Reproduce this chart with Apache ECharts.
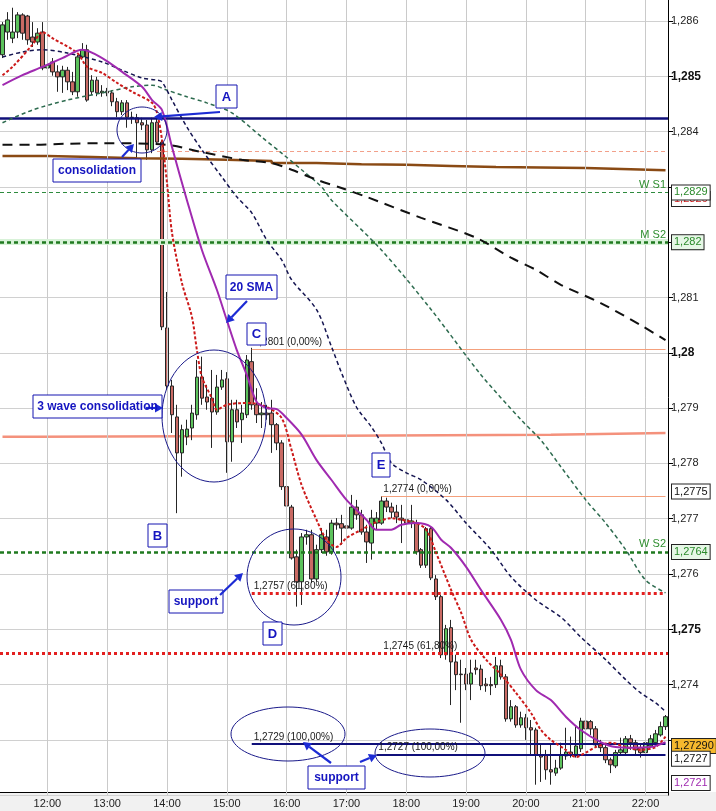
<!DOCTYPE html>
<html><head><meta charset="utf-8">
<script src="https://cdn.jsdelivr.net/npm/echarts@6/dist/echarts.min.js"></script>
<style>html,body{margin:0;padding:0;background:#fff}#c{width:716px;height:811px}</style>
</head><body><div id="c"></div>
<script>
// ---------- categories (5-minute bars) ----------
const times = [];
for (let m = 11 * 60 + 15; m <= 22 * 60 + 20; m += 5) {
  times.push(String(Math.floor(m / 60)).padStart(2, '0') + ':' + String(m % 60).padStart(2, '0'));
}
const hourTicks = ['12:00','13:00','14:00','15:00','16:00','17:00','18:00','19:00','20:00','21:00','22:00'];
// y tick labels hidden behind the price boxes on the right
const coveredTicks = ['1,283', '1,282', '1,273'];

// ---------- candles ----------
const opens = [1.28539,1.28580,1.28569,1.28580,1.28611,1.28609,1.28571,1.28562,1.28580,1.28515,
1.28526,1.28508,1.28499,1.28511,1.28490,1.28472,1.28535,1.28548,1.28472,1.28493,
1.28470,1.28473,1.28470,1.28454,1.28436,1.28452,1.28426,1.28425,1.28416,1.28412,
1.28367,1.28417,1.28381,1.28045,1.27940,1.27884,1.27819,1.27848,1.27864,1.27888,
1.27956,1.27920,1.27918,1.27893,1.27938,1.27953,1.27839,1.27897,1.27879,1.27888,
1.27984,1.27906,1.27888,1.27891,1.27891,1.27870,1.27837,1.27758,1.27721,1.27631,
1.27586,1.27667,1.27671,1.27591,1.27644,1.27667,1.27640,1.27692,1.27691,1.27687,
1.27683,1.27721,1.27707,1.27676,1.27656,1.27692,1.27692,1.27732,1.27721,1.27712,
1.27701,1.27698,1.27692,1.27692,1.27644,1.27616,1.27682,1.27591,1.27559,1.27454,
1.27503,1.27441,1.27419,1.27419,1.27401,1.27430,1.27428,1.27401,1.27400,1.27400,
1.27434,1.27414,1.27338,1.27360,1.27327,1.27340,1.27322,1.27318,1.27273,1.27273,
1.27246,1.27240,1.27249,1.27271,1.27278,1.27273,1.27284,1.27334,1.27333,1.27320,
1.27291,1.27286,1.27264,1.27253,1.27277,1.27277,1.27302,1.27295,1.27286,1.27277,
1.27289,1.27295,1.27309,1.27324];
const closes = [1.28593,1.28602,1.28580,1.28611,1.28578,1.28566,1.28562,1.28578,1.28515,1.28520,
1.28508,1.28499,1.28511,1.28490,1.28472,1.28535,1.28548,1.28457,1.28493,1.28470,
1.28473,1.28470,1.28454,1.28436,1.28452,1.28426,1.28425,1.28416,1.28412,1.28367,
1.28416,1.28381,1.28047,1.27940,1.27888,1.27819,1.27861,1.27862,1.27891,1.27956,
1.27918,1.27911,1.27893,1.27938,1.27951,1.27839,1.27897,1.27875,1.27891,1.27987,
1.27906,1.27888,1.27891,1.27888,1.27870,1.27837,1.27758,1.27723,1.27629,1.27586,
1.27667,1.27671,1.27591,1.27644,1.27671,1.27640,1.27692,1.27689,1.27683,1.27683,
1.27721,1.27707,1.27676,1.27658,1.27701,1.27701,1.27732,1.27721,1.27712,1.27703,
1.27698,1.27692,1.27696,1.27640,1.27616,1.27682,1.27593,1.27559,1.27454,1.27501,
1.27441,1.27418,1.27418,1.27401,1.27421,1.27427,1.27398,1.27398,1.27398,1.27434,
1.27414,1.27338,1.27360,1.27327,1.27340,1.27322,1.27318,1.27273,1.27269,1.27246,
1.27242,1.27249,1.27273,1.27278,1.27273,1.27289,1.27334,1.27320,1.27320,1.27291,
1.27286,1.27264,1.27255,1.27277,1.27282,1.27302,1.27295,1.27282,1.27277,1.27295,
1.27302,1.27311,1.27324,1.27342];
const lows = [1.28533,1.28566,1.28560,1.28569,1.28566,1.28557,1.28553,1.28557,1.28511,1.28508,
1.28501,1.28472,1.28470,1.28475,1.28466,1.28463,1.28533,1.28454,1.28466,1.28464,
1.28463,1.28464,1.28446,1.28426,1.28430,1.28407,1.28414,1.28349,1.28403,1.28349,
1.28361,1.28376,1.28041,1.27933,1.27855,1.27710,1.27776,1.27833,1.27842,1.27879,
1.27906,1.27897,1.27828,1.27888,1.27933,1.27783,1.27803,1.27864,1.27837,1.27882,
1.27897,1.27873,1.27864,1.27879,1.27819,1.27824,1.27752,1.27716,1.27626,1.27541,
1.27544,1.27653,1.27584,1.27586,1.27638,1.27633,1.27635,1.27680,1.27653,1.27671,
1.27680,1.27698,1.27671,1.27620,1.27626,1.27680,1.27689,1.27712,1.27701,1.27692,
1.27656,1.27683,1.27683,1.27635,1.27611,1.27611,1.27589,1.27553,1.27448,1.27445,
1.27363,1.27390,1.27331,1.27390,1.27372,1.27418,1.27390,1.27387,1.27381,1.27394,
1.27409,1.27333,1.27333,1.27322,1.27322,1.27300,1.27273,1.27219,1.27224,1.27228,
1.27219,1.27235,1.27246,1.27264,1.27268,1.27268,1.27278,1.27295,1.27309,1.27286,
1.27278,1.27258,1.27240,1.27249,1.27271,1.27273,1.27282,1.27271,1.27268,1.27271,
1.27286,1.27291,1.27306,1.27318];
const highs = [1.28598,1.28616,1.28624,1.28616,1.28614,1.28611,1.28598,1.28587,1.28598,1.28530,
1.28533,1.28520,1.28519,1.28517,1.28508,1.28539,1.28560,1.28557,1.28502,1.28499,
1.28484,1.28479,1.28475,1.28461,1.28457,1.28457,1.28436,1.28432,1.28425,1.28421,
1.28425,1.28425,1.28385,1.28110,1.27951,1.27906,1.27870,1.27879,1.27906,1.27987,
1.27993,1.27942,1.27969,1.27960,1.27969,1.27965,1.27915,1.27915,1.27906,1.27996,
1.28009,1.27936,1.27911,1.27906,1.27915,1.27873,1.27842,1.27761,1.27725,1.27644,
1.27674,1.27680,1.27680,1.27653,1.27683,1.27680,1.27698,1.27701,1.27707,1.27698,
1.27743,1.27734,1.27716,1.27689,1.27716,1.27712,1.27741,1.27738,1.27729,1.27725,
1.27725,1.27716,1.27725,1.27698,1.27647,1.27685,1.27685,1.27598,1.27562,1.27508,
1.27517,1.27454,1.27445,1.27430,1.27445,1.27445,1.27436,1.27412,1.27414,1.27450,
1.27445,1.27419,1.27372,1.27363,1.27351,1.27347,1.27336,1.27322,1.27291,1.27282,
1.27291,1.27264,1.27295,1.27322,1.27306,1.27324,1.27340,1.27340,1.27336,1.27325,
1.27300,1.27291,1.27268,1.27282,1.27304,1.27307,1.27309,1.27300,1.27291,1.27300,
1.27309,1.27318,1.27333,1.27345];

// ---------- moving averages / indicator lines: [barIndex, price] ----------
const sma20 = [[0,1.28484],[4,1.28502],[8,1.28517],[12,1.28533],[16,1.28548],[20,1.28533],[24,1.28508],[28,1.28481],[30,1.28457],[32,1.28439],[34,1.28372],[37,1.28276],[40,1.28186],[43,1.28114],[45,1.28059],[47,1.28005],[49,1.27960],[51,1.27911],[53,1.27900],[55,1.27898],[57,1.27882],[60,1.27852],[63,1.27806],[66,1.27770],[69,1.27734],[71,1.27716],[73,1.27698],[75,1.27680],[78,1.27680],[80,1.27689],[83,1.27692],[86,1.27685],[88,1.27662],[90,1.27647],[93,1.27613],[96,1.27571],[100,1.27517],[102,1.27481],[104,1.27427],[107,1.27390],[110,1.27372],[113,1.27342],[116,1.27318],[120,1.27296],[123,1.27287],[126,1.27286],[130,1.27287],[133,1.27296]];
const emaFast = [[0,1.28502],[2,1.28517],[6,1.28557],[8,1.28580],[10,1.28569],[15,1.28542],[17,1.28517],[20,1.28506],[23,1.28488],[26,1.28472],[30,1.28452],[31,1.28434],[32,1.28385],[33,1.28307],[34,1.28217],[36,1.28126],[38,1.28065],[39,1.28005],[40,1.27956],[42,1.27918],[43,1.27897],[45,1.27906],[48,1.27909],[50,1.27909],[53,1.27902],[56,1.27882],[58,1.27824],[60,1.27761],[63,1.27698],[65,1.27662],[67,1.27649],[69,1.27665],[72,1.27680],[75,1.27694],[78,1.27701],[80,1.27698],[83,1.27692],[85,1.27680],[87,1.27638],[90,1.27571],[92,1.27530],[94,1.27481],[97,1.27445],[100,1.27418],[103,1.27385],[106,1.27349],[108,1.27318],[110,1.27300],[113,1.27282],[115,1.27269],[117,1.27277],[119,1.27287],[122,1.27295],[125,1.27287],[128,1.27282],[131,1.27287],[133,1.27306]];
const maNavy = [[0,1.28535],[4,1.28544],[8,1.28548],[13,1.28542],[20,1.28526],[24,1.28511],[28,1.28497],[31,1.28493],[32,1.28490],[34,1.28457],[37,1.28408],[40,1.28367],[44,1.28318],[47,1.28282],[50,1.28253],[53,1.28204],[56,1.28168],[58,1.28132],[63,1.28078],[66,1.28011],[68,1.27964],[71,1.27902],[74,1.27866],[76,1.27837],[78,1.27801],[81,1.27783],[84,1.27770],[89,1.27734],[93,1.27692],[98,1.27644],[102,1.27595],[107,1.27553],[112,1.27522],[116,1.27486],[121,1.27445],[125,1.27409],[128,1.27385],[131,1.27367],[133,1.27351]];
const maGreen = [[0,1.28416],[6,1.28439],[13,1.28457],[20,1.28470],[26,1.28481],[30,1.28484],[33,1.28475],[37,1.28463],[41,1.28452],[46,1.28434],[52,1.28390],[56,1.28361],[60,1.28331],[64,1.28300],[66,1.28276],[76,1.28186],[86,1.28078],[96,1.27960],[104,1.27879],[108,1.27842],[112,1.27794],[117,1.27734],[121,1.27692],[125,1.27644],[129,1.27589],[133,1.27566]];
const maBlack = [[0,1.28376],[6,1.28376],[13,1.28378],[20,1.28379],[33,1.28376],[40,1.28363],[48,1.28349],[54,1.28343],[58,1.28331],[63,1.28313],[68,1.28298],[73,1.28282],[84,1.28244],[95,1.28208],[102,1.28172],[107,1.28150],[112,1.28123],[120,1.28090],[128,1.28050],[133,1.28023]];
const pivotBrown = [[0,1.28356],[9,1.28354],[18,1.28352],[27,1.28351],[36,1.28349],[45,1.28347],[54,1.28343],[63,1.28341],[72,1.28340],[81,1.28338],[90,1.28336],[99,1.28335],[108,1.28334],[117,1.28332],[126,1.28330],[133,1.28330]];
const pivotSalmon = [[0,1.27848],[7,1.27850],[67,1.27852],[110,1.27855],[133,1.27855]];

// ---------- horizontal levels ----------
const levelA = 1.28424, levelPink = 1.28365, WS1 = 1.2829, MS2 = 1.2820, WS2 = 1.2764;
const fibC = 1.28006, fibE = 1.27740, fibD = 1.27565, fibLow = 1.27456, sup1 = 1.27293, sup2 = 1.27274;
const boxRed = 1.28278, boxE = 1.27749, boxLast = 1.27289, boxSup = 1.27266, boxPurple = 1.27222;

const FONT = '"Liberation Sans", Arial, sans-serif';
const last = times[times.length - 1];
const noLine = {color: 'rgba(0,0,0,0)', width: 0, type: 'solid'};
function full(v, ls, label) { return {yAxis: v, lineStyle: ls, label: label || {show: false}}; }
function seg(i0, v, ls, label) { return [{coord: [times[i0], v], lineStyle: ls, label: label || {show: false}}, {coord: [last, v]}]; }
function fibLabel(t) { return {show: true, position: 'insideStartTop', formatter: t, color: '#1a1a1a', fontSize: 10, fontFamily: FONT, distance: 2}; }
function nameLabel(t) { return {show: true, position: 'insideEndTop', formatter: t, color: '#2f8f2f', fontSize: 11, fontFamily: FONT, distance: 2}; }
function boxLabel(t, color, bg, border) { return {show: true, position: 'end', distance: 4, formatter: t, color: color, backgroundColor: bg, borderColor: border || '#222', borderWidth: 1, padding: [2, 2, 1, 2], fontSize: 11, fontFamily: FONT}; }

const navyLS = {color: '#10107a', width: 2.2, type: 'solid'};
const redDot = {color: '#e32020', width: 3, type: [3, 3]};
const greenThick = {color: '#1f7a1f', width: 2.5, type: [4, 3]};
const salmonThin = {color: '#f4a07c', width: 1.2, type: 'solid'};

const levelData = [
  full(levelA, {color: '#10107a', width: 2.5, type: 'solid'}),
  seg(31, levelPink, {color: '#f2a08a', width: 1, type: [4, 3]}),
  full(boxRed, noLine, boxLabel('1,2826', '#d02020', '#fff')),
  full(WS1, {color: '#2e8b3e', width: 1.2, type: [4, 3]}, nameLabel('W S1')),
  full(WS1, noLine, boxLabel('1,2829', '#2a8a2a', '#fff')),
  full(MS2, {color: '#d8f2d8', width: 6, type: 'solid'}),
  full(MS2, greenThick, nameLabel('M S2')),
  full(MS2, noLine, boxLabel('1,282', '#2a8a2a', '#e6f7e6')),
  seg(50, fibC, salmonThin, fibLabel('1,2801 (0,00%)')),
  seg(76, fibE, salmonThin, fibLabel('1,2774 (0,00%)')),
  full(boxE, noLine, boxLabel('1,2775', '#111', '#fff')),
  full(WS2, greenThick, nameLabel('W S2')),
  full(WS2, noLine, boxLabel('1,2764', '#2a8a2a', '#e6f7e6')),
  seg(50, fibD, redDot, fibLabel('1,2757 (61,80%)')),
  full(fibLow, redDot),
  seg(76, fibLow, noLine, fibLabel('1,2745 (61,80%)')),
  seg(50, sup1, navyLS, fibLabel('1,2729 (100,00%)')),
  seg(75, sup2, navyLS, fibLabel('1,2727 (100,00%)')),
  full(boxLast, noLine, boxLabel('1,27290', '#111', '#f5b82e')),
  full(boxSup, noLine, boxLabel('1,2727', '#111', '#fff')),
  full(boxPurple, noLine, boxLabel('1,2721', '#a02ab0', '#fff'))
];

function lineSeries(data, color, width, type, z, extra) {
  return Object.assign({type: 'line', data: data, showSymbol: false, symbol: 'none', z: z, silent: true,
    lineStyle: {color: color, width: width, type: type}}, extra || {});
}

// ---------- annotations ----------
const BLUE = '#1c2bd4';
function arrow(x1, y1, x2, y2) {
  const a = Math.atan2(y2 - y1, x2 - x1), L = 8, W = 4.5;
  const bx = x2 - L * Math.cos(a), by = y2 - L * Math.sin(a);
  const px = -Math.sin(a), py = Math.cos(a);
  return [
    {type: 'line', z: 100, shape: {x1: x1, y1: y1, x2: bx, y2: by}, style: {stroke: BLUE, lineWidth: 2.2}},
    {type: 'polygon', z: 100, shape: {points: [[x2, y2], [bx + px * W, by + py * W], [bx - px * W, by - py * W]]}, style: {fill: BLUE}}
  ];
}
function box(x, y, w, h, t, fs) {
  return [
    {type: 'rect', z: 100, shape: {x: x, y: y, width: w, height: h}, style: {fill: '#fff', stroke: '#1515b0', lineWidth: 1}},
    {type: 'text', z: 101, x: x + w / 2, y: y + h / 2 + 0.5, style: {text: t, fill: '#1515c0', font: 'bold ' + (fs || 12) + 'px ' + FONT, align: 'center', verticalAlign: 'middle', textAlign: 'center', textVerticalAlign: 'middle'}}
  ];
}
function ellipse(cx, cy, rx, ry) {
  const pts = [];
  for (let k = 0; k < 72; k++) { const t = k / 72 * Math.PI * 2; pts.push([cx + rx * Math.cos(t), cy + ry * Math.sin(t)]); }
  return {type: 'polygon', z: 99, shape: {points: pts}, style: {fill: 'none', stroke: '#1a1a8a', lineWidth: 1}};
}
const annotations = [].concat(
  [ellipse(142, 130, 25, 23), ellipse(214, 416, 52, 66), ellipse(294, 577, 47, 48), ellipse(288, 734, 57, 27), ellipse(430, 753, 55, 24)],
  box(216, 85, 21, 23, 'A', 13), arrow(220, 112, 154, 117),
  box(53, 159, 88, 23, 'consolidation'), arrow(122, 157, 134, 144),
  box(226, 275, 51, 24, '20 SMA'), arrow(247, 301, 226, 323),
  box(247, 323, 19, 22, 'C', 13),
  box(33, 395, 129, 23, '3 wave consolidation'), arrow(146, 408, 163, 408),
  box(148, 524, 19, 23, 'B', 13),
  box(372, 453, 18, 24, 'E', 13),
  box(169, 590, 54, 23, 'support'), arrow(220, 595, 243, 573),
  box(263, 622, 19, 23, 'D', 13),
  box(308, 766, 57, 23, 'support'), arrow(331, 763, 303, 742), arrow(360, 762, 377, 755)
);

const chart = echarts.init(document.getElementById('c'), null, {renderer: 'canvas'});
chart.setOption({
  animation: false,
  backgroundColor: '#fff',
  grid: {left: 0, right: 48, top: -1.12, bottom: 15.8, containLabel: false, outerBoundsMode: 'none'},
  xAxis: {
    type: 'category', data: times, boundaryGap: true, offset: -3.2,
    axisLine: {show: true, lineStyle: {color: '#000', width: 1}},
    axisTick: {show: false},
    axisLabel: {interval: function (i, v) { return v.slice(3) === '00'; }, color: '#222', fontSize: 11, fontFamily: FONT, margin: 6},
    splitLine: {show: false}
  },
  yAxis: {
    type: 'value', position: 'right', min: 1.272, max: 1.2864, interval: 0.001,
    axisLine: {show: true, lineStyle: {color: '#000', width: 1}},
    axisTick: {show: true, length: 5, lineStyle: {color: '#000'}},
    axisLabel: {
      showMinLabel: false, showMaxLabel: false, margin: 3, color: '#222', fontSize: 11, fontFamily: FONT,
      formatter: function (v) {
        if (v < 1.2725 || v > 1.2862) return '';
        const s = String(parseFloat(v.toFixed(4))).replace('.', ',');
        if (coveredTicks.indexOf(s) >= 0) return '';
        return Math.round(v * 1000) % 5 === 0 ? '{b|' + s + '}' : s;
      },
      rich: {b: {fontWeight: 'bold', fontSize: 12, color: '#111', fontFamily: FONT}}
    },
    splitLine: {show: true, lineStyle: {color: '#d0d0d0', width: 1}}
  },
  series: [
    {type: 'line', data: [], z: 1, silent: true,
     markLine: {silent: true, animation: false, symbol: ['none', 'none'], label: {show: false},
       lineStyle: {color: '#cacaca', width: 1, type: 'solid'}, data: hourTicks.map(function (h) { return {xAxis: h}; })}},
    lineSeries(pivotSalmon, '#f4917c', 2.5, 'solid', 2, {step: 'end'}),
    {type: 'candlestick', z: 3, barWidth: 4, silent: true,
     data: opens.map(function (o, i) { return [o, closes[i], lows[i], highs[i]]; }),
     itemStyle: {color: '#5cc25c', color0: '#c96a64', borderColor: '#262626', borderColor0: '#262626', borderWidth: 1}},
    lineSeries(pivotBrown, '#8a4a14', 2.5, 'solid', 4, {step: 'end'}),
    {type: 'line', data: [], z: 5, silent: true,
     markLine: {silent: true, animation: false, precision: 6, symbol: ['none', 'none'], data: levelData}},
    lineSeries(maGreen, '#2d6b4f', 1.5, [4, 3], 6, {smooth: 0.3}),
    lineSeries(maNavy, '#141450', 1.5, [4, 3], 6, {smooth: 0.3}),
    lineSeries(maBlack, '#111111', 2, [10, 7], 6, {smooth: 0.3}),
    lineSeries(emaFast, '#cc1a1a', 2, [3, 2], 7, {smooth: 0.3}),
    lineSeries(sma20, '#a02ab0', 2, 'solid', 8, {smooth: 0.3})
  ],
  graphic: {elements: [{type: 'rect', z: -10, silent: true, shape: {x: 0, y: 792, width: 716, height: 19}, style: {fill: '#f1f1f1'}}].concat(annotations)}
});
</script>
</body></html>
